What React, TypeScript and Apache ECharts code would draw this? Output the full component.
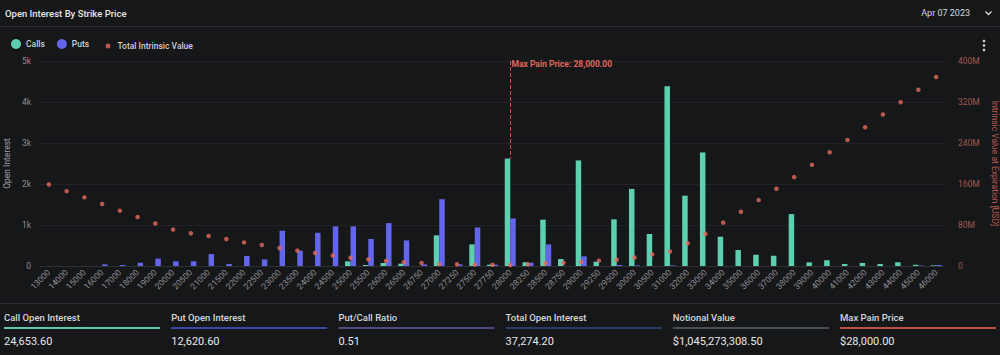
import React, { useEffect, useRef } from 'react';
import * as echarts from 'echarts';

const strikes = ['13000','14000','15000','16000','17000','18000','19000','20000','20500','21000','21500','22000','22500','23000','23500','24000','24500','25000','25500','26000','26500','26750','27000','27250','27500','27750','28000','28250','28500','28750','29000','29250','29500','30000','30500','31000','32000','33000','34000','35000','36000','37000','38000','39000','40000','41000','42000','43000','44000','45000','46000'];

const callsOI = [0,0,0,0,0,0,0,0,0,0,0,0,0,0,0,0,0,114,25,73,57,0,748,0,528,32,2620,90,1130,170,2575,105,1138,1880,780,4385,1715,2770,715,390,275,250,1265,90,140,50,75,50,90,30,15];

const putsOI = [0,0,0,40,25,80,180,115,115,290,50,245,160,860,375,810,965,965,660,1045,625,40,1630,40,940,32,1160,80,528,0,236,0,25,15,0,15,0,0,0,0,0,0,0,0,0,0,0,0,0,10,25];

const intrinsicM = [159,146,134,121,108,95.5,83,71,64,58.4,52.6,46,41,35,30,25.4,20.5,16.2,13,9.9,7.3,5.9,3.6,3.3,2.7,2.4,2.0,3.2,5.2,6.2,7.9,10.4,12.2,16.5,22.7,28.4,44.5,62.8,84.6,105.8,128.6,150.6,173.4,197.4,222,246,270.8,295.5,319.5,344,368.8];

const leftAxisMax = 5000;
const leftAxisStep = 1000;
const rightAxisMax = 400e6;
const rightAxisStep = 80e6;

const maxPainStrike = '28000';
const maxPainLabel = 'Max Pain Price: 28,000.00';

const statTitles = ['Call Open Interest','Put Open Interest','Put/Call Ratio','Total Open Interest','Notional Value','Max Pain Price'];
const statValues = ['24,653.60','12,620.60','0.51','37,274.20','$1,045,273,308.50','$28,000.00'];
const statColors = ['#5ec9ad','#3b47a6','#4f4b82','#2c3a68','#4a4d55','#b9514b'];

const FONT = 'Roboto, "Noto Sans", sans-serif';
const BG = '#161719';
const PAIN_RED = '#d0554b';

export default function App() {
  const ref = useRef<HTMLDivElement>(null);

  useEffect(() => {
    if (!ref.current) return;
    const chart = echarts.init(ref.current, null, { renderer: 'svg' });
    const mpIdx = strikes.indexOf(maxPainStrike);
    const topRight = (callsOI[mpIdx] / leftAxisMax) * rightAxisMax;

    const statGraphics: any[] = [];
    statTitles.forEach((t, i) => {
      const left = 4 + i * 167.2;
      statGraphics.push({
        type: 'text', left, top: 312,
        style: { text: t, fill: '#d6d7d9', font: `500 9.5px ${FONT}` },
      });
      statGraphics.push({
        type: 'rect', shape: { x: left, y: 327, width: 156, height: 2 },
        style: { fill: statColors[i] },
      });
      statGraphics.push({
        type: 'text', left, top: 336,
        style: { text: statValues[i], fill: '#e8e8ea', font: `400 11px ${FONT}` },
      });
    });

    chart.setOption({
      animation: false,
      backgroundColor: BG,
      textStyle: { fontFamily: FONT },
      graphic: [
        { type: 'text', left: 5, top: 8, style: { text: 'Open Interest By Strike Price', fill: '#e6e6e8', font: `500 9.5px ${FONT}` } },
        { type: 'text', right: 30, top: 8, style: { text: 'Apr 07 2023', fill: '#d6d7d9', font: `400 9px ${FONT}` } },
        { type: 'polyline', shape: { points: [[985.5, 11.5], [988.5, 14.5], [991.5, 11.5]] }, style: { stroke: '#d6d7d9', lineWidth: 1.4, fill: 'none' } },
        { type: 'rect', shape: { x: 0, y: 26, width: 1000, height: 1 }, style: { fill: '#2a2b2f' } },
        { type: 'circle', shape: { cx: 984, cy: 41, r: 1.3 }, style: { fill: '#d0d0d0' } },
        { type: 'circle', shape: { cx: 984, cy: 45.5, r: 1.3 }, style: { fill: '#d0d0d0' } },
        { type: 'circle', shape: { cx: 984, cy: 50, r: 1.3 }, style: { fill: '#d0d0d0' } },
        { type: 'rect', shape: { x: 0, y: 303, width: 1000, height: 1 }, style: { fill: '#2a2b2f' } },
        ...statGraphics,
      ],
      legend: [
        {
          data: [
            { name: 'Calls', icon: 'circle' },
            { name: 'Puts', icon: 'circle' },
          ],
          left: 11, top: 39, padding: 0, itemWidth: 10, itemHeight: 10, itemGap: 12,
          textStyle: { color: '#cfd0d2', fontSize: 8.5, fontFamily: FONT, fontWeight: 500 },
        },
        {
          data: [{ name: 'Total Intrinsic Value', icon: 'circle' }],
          left: 105.5, top: 41.5, padding: 0, itemWidth: 5, itemHeight: 5, itemGap: 10,
          textStyle: { color: '#cfd0d2', fontSize: 8.5, fontFamily: FONT, fontWeight: 500, padding: [0, 0, 0, 2] },
        },
      ],
      grid: { left: 40, right: 55, top: 61, bottom: 89, containLabel: false, outerBoundsMode: 'none' },
      xAxis: {
        type: 'category',
        data: strikes,
        axisTick: { show: false },
        axisLine: { lineStyle: { color: '#2e3034' } },
        axisLabel: { interval: 0, rotate: 45, color: '#8d8e92', fontSize: 8.5, margin: 5, fontFamily: FONT },
      },
      yAxis: [
        {
          type: 'value', min: 0, max: leftAxisMax, interval: leftAxisStep,
          name: 'Open Interest', nameLocation: 'middle', nameGap: 25,
          nameTextStyle: { color: '#a0a1a5', fontSize: 8.5, fontFamily: FONT },
          axisLabel: { color: '#8d8e92', fontSize: 8.5, margin: 9, formatter: (v: number) => (v === 0 ? '0' : `${v / 1000}k`) },
          splitLine: { lineStyle: { color: '#222326' } },
          axisLine: { show: false }, axisTick: { show: false },
        },
        {
          type: 'value', min: 0, max: rightAxisMax, interval: rightAxisStep,
          name: 'Intrinsic Value at Expiration [USD]', nameLocation: 'middle', nameGap: 36, nameRotate: -90,
          nameTextStyle: { color: '#b55a52', fontSize: 8.5, fontFamily: FONT },
          axisLabel: { color: '#a1574f', fontSize: 8.5, margin: 13, formatter: (v: number) => (v === 0 ? '0' : `${v / 1e6}M`) },
          splitLine: { show: false },
          axisLine: { show: false }, axisTick: { show: false },
        },
      ],
      series: [
        {
          name: 'Calls', type: 'bar', data: callsOI, yAxisIndex: 0,
          barWidth: 5.5, barGap: '0%',
          itemStyle: { color: '#5ecfb1' },
          markPoint: {
            silent: true, symbol: 'circle', symbolSize: 0,
            data: [{
              coord: [maxPainStrike, 4930],
              label: { show: true, position: 'right', distance: 4, formatter: maxPainLabel, color: '#e0665a', fontSize: 8.5, fontWeight: 'bold', fontFamily: FONT },
            }],
          },
        },
        {
          name: 'Puts', type: 'bar', data: putsOI, yAxisIndex: 0,
          barWidth: 5.5, barGap: '0%',
          itemStyle: { color: '#6366ea' },
        },
        {
          name: 'Total Intrinsic Value', type: 'scatter', yAxisIndex: 1,
          data: intrinsicM.map((v) => v * 1e6),
          symbolSize: 4.5,
          itemStyle: { color: '#e66a5c' },
          z: 5,
          markLine: {
            silent: true, symbol: 'none', z: 1,
            lineStyle: { color: PAIN_RED, type: [4, 2], width: 1 },
            label: { show: false },
            data: [[
              { coord: [maxPainStrike, rightAxisMax] },
              { coord: [maxPainStrike, topRight] },
            ]],
          },
        },
      ],
    });

    return () => chart.dispose();
  }, []);

  return (
    <div style={{ position: 'fixed', left: 0, top: 0, width: 1000, height: 355, background: BG }}>
      <div ref={ref} style={{ width: 1000, height: 355 }} />
    </div>
  );
}
